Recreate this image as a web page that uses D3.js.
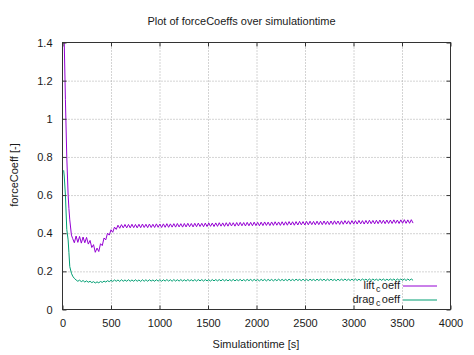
<!DOCTYPE html>
<html>
<head>
<meta charset="utf-8">
<script src="https://cdn.jsdelivr.net/npm/d3@7"></script>
<style>
  html, body { margin: 0; padding: 0; background: #fff; }
  svg { display: block; font-family: "Liberation Sans", Arial, sans-serif; }
</style>
</head>
<body>
<svg id="chart" width="474" height="355"></svg>
<script>
// ---- data ----
const titleText = "Plot of forceCoeffs over simulationtime";
const xLabelText = "Simulationtime [s]";
const yLabelText = "forceCoeff [-]";
const xTicks = [0, 500, 1000, 1500, 2000, 2500, 3000, 3500, 4000];
const yTicks = [0, 0.2, 0.4, 0.6, 0.8, 1, 1.2, 1.4];
const seriesNames = ["lift_coeff", "drag_coeff"];
const seriesColors = ["#9400d3", "#009e73"];

const time = [
  12, 18, 30, 44, 58, 66, 75, 92, 105, 122,
  140, 158, 176, 194, 212, 230, 248, 266, 284, 302,
  320, 338, 356, 374, 392, 410, 428, 446, 464, 482,
  500, 518, 536, 554, 572, 590, 608, 626, 644, 662,
  680, 698, 716, 734, 752, 770, 788, 806, 824, 842,
  860, 878, 896, 914, 932, 950, 968, 986, 1004, 1022,
  1040, 1058, 1076, 1094, 1112, 1130, 1148, 1166, 1184, 1202,
  1220, 1238, 1256, 1274, 1292, 1310, 1328, 1346, 1364, 1382,
  1400, 1418, 1436, 1454, 1472, 1490, 1508, 1526, 1544, 1562,
  1580, 1598, 1616, 1634, 1652, 1670, 1688, 1706, 1724, 1742,
  1760, 1778, 1796, 1814, 1832, 1850, 1868, 1886, 1904, 1922,
  1940, 1958, 1976, 1994, 2012, 2030, 2048, 2066, 2084, 2102,
  2120, 2138, 2156, 2174, 2192, 2210, 2228, 2246, 2264, 2282,
  2300, 2318, 2336, 2354, 2372, 2390, 2408, 2426, 2444, 2462,
  2480, 2498, 2516, 2534, 2552, 2570, 2588, 2606, 2624, 2642,
  2660, 2678, 2696, 2714, 2732, 2750, 2768, 2786, 2804, 2822,
  2840, 2858, 2876, 2894, 2912, 2930, 2948, 2966, 2984, 3002,
  3020, 3038, 3056, 3074, 3092, 3110, 3128, 3146, 3164, 3182,
  3200, 3218, 3236, 3254, 3272, 3290, 3308, 3326, 3344, 3362,
  3380, 3398, 3416, 3434, 3452, 3470, 3488, 3506, 3524, 3542,
  3560, 3578, 3596, 3614
];

const liftCoeff = [
  1.52, 1.40, 1.10, 0.80, 0.60, 0.53, 0.47, 0.39, 0.372, 0.35,
  0.385, 0.352, 0.383, 0.348, 0.380, 0.350, 0.378, 0.343, 0.362, 0.325,
  0.340, 0.300, 0.322, 0.304, 0.345, 0.335, 0.375, 0.365, 0.400, 0.390,
  0.418, 0.405, 0.432, 0.420, 0.442, 0.426, 0.445, 0.428, 0.446, 0.428,
  0.446, 0.428, 0.447, 0.429, 0.446, 0.428, 0.447, 0.429, 0.448, 0.430,
  0.447, 0.429, 0.448, 0.430, 0.447, 0.430, 0.449, 0.431, 0.448, 0.430,
  0.449, 0.431, 0.450, 0.431, 0.449, 0.432, 0.450, 0.432, 0.451, 0.433,
  0.450, 0.432, 0.451, 0.433, 0.452, 0.434, 0.451, 0.433, 0.452, 0.434,
  0.453, 0.435, 0.452, 0.434, 0.453, 0.435, 0.454, 0.436, 0.453, 0.435,
  0.454, 0.436, 0.455, 0.437, 0.454, 0.436, 0.455, 0.437, 0.456, 0.438,
  0.455, 0.437, 0.456, 0.438, 0.457, 0.439, 0.456, 0.438, 0.457, 0.439,
  0.457, 0.439, 0.458, 0.440, 0.457, 0.439, 0.458, 0.440, 0.459, 0.441,
  0.458, 0.440, 0.459, 0.441, 0.460, 0.442, 0.459, 0.441, 0.460, 0.442,
  0.460, 0.442, 0.461, 0.443, 0.460, 0.442, 0.461, 0.443, 0.462, 0.444,
  0.461, 0.443, 0.462, 0.444, 0.463, 0.445, 0.462, 0.444, 0.463, 0.445,
  0.463, 0.445, 0.464, 0.446, 0.463, 0.445, 0.464, 0.446, 0.465, 0.447,
  0.464, 0.446, 0.465, 0.447, 0.466, 0.448, 0.465, 0.447, 0.466, 0.448,
  0.466, 0.448, 0.467, 0.449, 0.466, 0.448, 0.467, 0.449, 0.468, 0.450,
  0.467, 0.449, 0.468, 0.450, 0.469, 0.451, 0.468, 0.450, 0.469, 0.451,
  0.469, 0.451, 0.470, 0.452, 0.469, 0.451, 0.470, 0.452, 0.471, 0.452,
  0.470, 0.452, 0.471, 0.453
];

const dragCoeff = [
  0.73, 0.70, 0.60, 0.42, 0.365, 0.30, 0.225, 0.19, 0.175, 0.163,
  0.155, 0.148, 0.154, 0.146, 0.152, 0.144, 0.150, 0.143, 0.148, 0.141,
  0.146, 0.139, 0.145, 0.140, 0.147, 0.142, 0.149, 0.144, 0.151, 0.146,
  0.153, 0.147, 0.155, 0.148, 0.155, 0.147, 0.156, 0.148, 0.155, 0.148,
  0.156, 0.148, 0.155, 0.148, 0.156, 0.148, 0.155, 0.147, 0.156, 0.148,
  0.156, 0.148, 0.156, 0.149, 0.155, 0.148, 0.156, 0.149, 0.156, 0.148,
  0.156, 0.149, 0.157, 0.149, 0.156, 0.148, 0.157, 0.149, 0.156, 0.149,
  0.157, 0.149, 0.156, 0.149, 0.157, 0.150, 0.156, 0.149, 0.157, 0.149,
  0.157, 0.150, 0.157, 0.149, 0.157, 0.150, 0.156, 0.149, 0.157, 0.150,
  0.157, 0.150, 0.157, 0.150, 0.158, 0.150, 0.157, 0.150, 0.157, 0.150,
  0.158, 0.150, 0.157, 0.151, 0.158, 0.150, 0.157, 0.150, 0.158, 0.151,
  0.158, 0.150, 0.158, 0.151, 0.157, 0.150, 0.158, 0.151, 0.158, 0.150,
  0.158, 0.151, 0.158, 0.150, 0.158, 0.151, 0.159, 0.151, 0.158, 0.151,
  0.158, 0.151, 0.159, 0.151, 0.158, 0.151, 0.159, 0.152, 0.158, 0.151,
  0.159, 0.151, 0.158, 0.151, 0.159, 0.152, 0.158, 0.151, 0.159, 0.152,
  0.159, 0.152, 0.159, 0.151, 0.159, 0.152, 0.159, 0.152, 0.158, 0.151,
  0.159, 0.152, 0.159, 0.152, 0.160, 0.152, 0.159, 0.152, 0.159, 0.152,
  0.160, 0.152, 0.159, 0.152, 0.160, 0.153, 0.159, 0.152, 0.160, 0.152,
  0.160, 0.153, 0.159, 0.152, 0.160, 0.153, 0.160, 0.152, 0.159, 0.153,
  0.160, 0.153, 0.160, 0.152, 0.160, 0.153, 0.160, 0.153, 0.160, 0.152,
  0.160, 0.153, 0.160, 0.153
];

// ---- drawing ----
const svg = d3.select("#chart");
const pL = 62.5, pR = 450.5, pT = 42.5, pB = 309.5;
const x = d3.scaleLinear().domain([0, 4000]).range([pL, pR]);
const y = d3.scaleLinear().domain([0, 1.4]).range([pB, pT]);
const fontSize = 11;
const textColor = "#1a1a1a";

svg.append("rect").attr("width", 474).attr("height", 355).attr("fill", "#fff");

// grid
const gridX = svg.append("g").attr("transform", `translate(0,${pB})`)
  .call(d3.axisBottom(x).tickValues(xTicks.filter(v => v > 0 && v < 4000)).tickSize(-(pB - pT)).tickFormat(""));
const gridY = svg.append("g").attr("transform", `translate(${pL},0)`)
  .call(d3.axisLeft(y).tickValues(yTicks.filter(v => v > 0 && v < 1.4)).tickSize(-(pR - pL)).tickFormat(""));
[gridX, gridY].forEach(g => {
  g.select(".domain").remove();
  g.selectAll("line").attr("stroke", "#a8a8a8").attr("stroke-width", 1).attr("stroke-dasharray", "1,2");
});

// series lines
svg.append("clipPath").attr("id", "plotclip").append("rect")
  .attr("x", pL).attr("y", pT).attr("width", pR - pL).attr("height", pB - pT);
const seriesValues = [liftCoeff, dragCoeff];
const n = Math.min(time.length, liftCoeff.length, dragCoeff.length);
const line = d3.line().x(d => x(d[0])).y(d => y(d[1]));
seriesValues.forEach((vals, i) => {
  const pts = d3.range(n).map(k => [time[k], vals[k]]);
  svg.append("path").attr("clip-path", "url(#plotclip)")
    .attr("d", line(pts)).attr("fill", "none")
    .attr("stroke", seriesColors[i]).attr("stroke-width", 1)
    .attr("stroke-linejoin", "miter");
});

// axes (ticks pointing inward, mirrored)
const tickLen = 4;
const axB = svg.append("g").attr("transform", `translate(0,${pB})`)
  .call(d3.axisBottom(x).tickValues(xTicks).tickSizeInner(-tickLen).tickSizeOuter(0).tickPadding(10).tickFormat(d3.format("d")));
const axL = svg.append("g").attr("transform", `translate(${pL},0)`)
  .call(d3.axisLeft(y).tickValues(yTicks).tickSizeInner(-tickLen).tickSizeOuter(0).tickPadding(10).tickFormat(d => String(d)));
const axT = svg.append("g").attr("transform", `translate(0,${pT})`)
  .call(d3.axisTop(x).tickValues(xTicks).tickSizeInner(-tickLen).tickSizeOuter(0).tickFormat(""));
const axR = svg.append("g").attr("transform", `translate(${pR},0)`)
  .call(d3.axisRight(y).tickValues(yTicks).tickSizeInner(-tickLen).tickSizeOuter(0).tickFormat(""));
[axB, axL, axT, axR].forEach(g => {
  g.select(".domain").remove();
  g.selectAll("line").attr("stroke", "#333").attr("stroke-width", 1);
  g.selectAll("text").attr("font-size", fontSize).attr("fill", textColor)
    .attr("font-family", "Liberation Sans, Arial, sans-serif");
});
axB.selectAll("text").attr("dy", "0.71em");

// border
svg.append("rect").attr("x", pL).attr("y", pT).attr("width", pR - pL).attr("height", pB - pT)
  .attr("fill", "none").attr("stroke", "#333").attr("stroke-width", 1);

// title & labels
svg.append("text").attr("x", 241.5).attr("y", 24.5).attr("text-anchor", "middle")
  .attr("font-size", fontSize).attr("fill", textColor).text(titleText);
svg.append("text").attr("x", 256).attr("y", 348).attr("text-anchor", "middle")
  .attr("font-size", fontSize).attr("fill", textColor).text(xLabelText);
svg.append("text").attr("transform", "translate(17.5,175) rotate(-90)").attr("text-anchor", "middle")
  .attr("font-size", fontSize).attr("fill", textColor).text(yLabelText);

// legend (gnuplot enhanced text: "_c" rendered as subscript)
const legendY = [289, 302.5];
const legendLineY = [286, 300];
seriesNames.forEach((name, i) => {
  const parts = name.split("_");
  const t = svg.append("text").attr("x", 400).attr("y", legendY[i]).attr("text-anchor", "end")
    .attr("font-size", fontSize).attr("fill", textColor);
  t.append("tspan").text(parts[0]);
  t.append("tspan").attr("dx", 1.5).attr("dy", 3).attr("font-size", fontSize * 0.8).text(parts[1].charAt(0));
  t.append("tspan").attr("dx", 1.5).attr("dy", -3).text(parts[1].slice(1));
  svg.append("line").attr("x1", 403).attr("x2", 437)
    .attr("y1", legendLineY[i]).attr("y2", legendLineY[i])
    .attr("stroke", seriesColors[i]).attr("stroke-width", 1);
});
</script>
</body>
</html>
